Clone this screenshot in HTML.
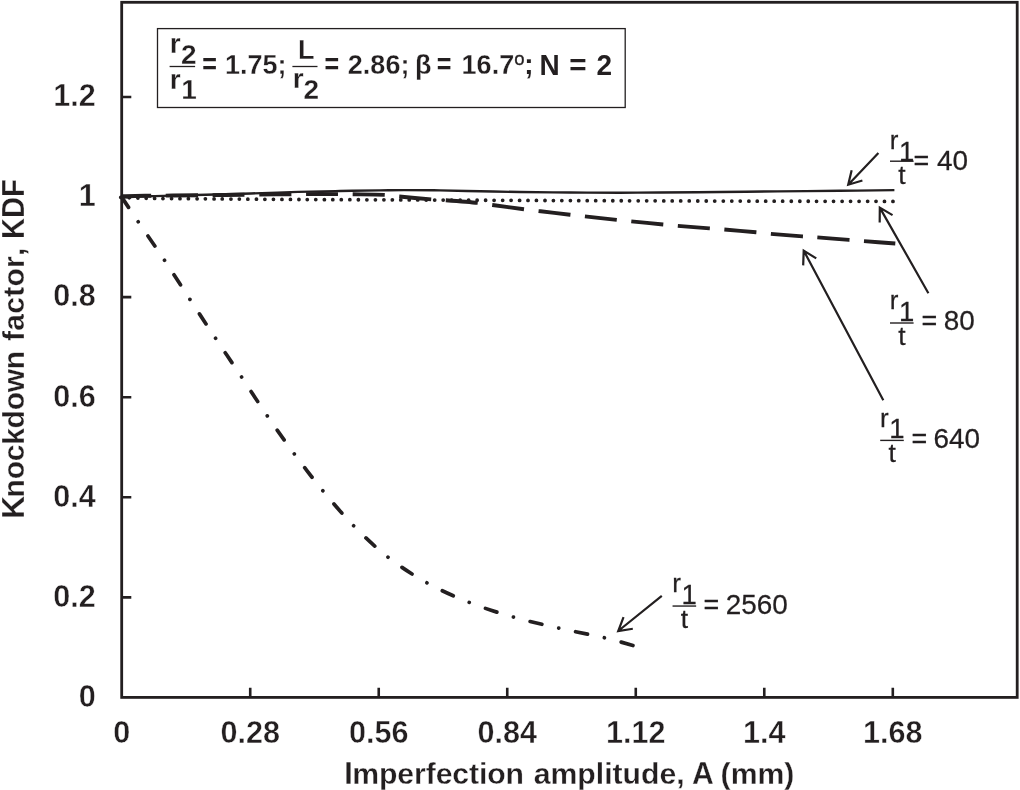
<!DOCTYPE html>
<html lang="en"><head><meta charset="utf-8"><title>Knockdown factor vs imperfection amplitude</title>
<style>html,body{margin:0;padding:0;background:#fff}body{width:1020px;height:790px;overflow:hidden}svg{display:block}text{font-family:"Liberation Sans",sans-serif;fill:#231f20}.b{font-weight:700}.tk{font-weight:700;font-size:30.6px;stroke:#fff;stroke-width:0.4px}.ne{stroke:none!important}.tt{font-weight:700;font-size:30.2px;font-kerning:none;stroke:#fff;stroke-width:0.3px}.an{font-size:27px;stroke:#231f20;stroke-width:0.25px}.lg{font-weight:700;font-size:28px;stroke:#fff;stroke-width:0.25px}</style></head><body>
<svg width="1020" height="790" viewBox="0 0 1020 790">
<rect x="0" y="0" width="1020" height="790" fill="#fff"/>
<rect x="121.70" y="2.30" width="895.50" height="695.10" fill="none" stroke="#231f20" stroke-width="2.8"/>
<path d="M250.22,697.40V687.80M378.73,697.40V687.80M507.25,697.40V687.80M635.77,697.40V687.80M764.28,697.40V687.80M892.80,697.40V687.80M121.70,597.34H131.30M121.70,497.28H131.30M121.70,397.22H131.30M121.70,297.16H131.30M121.70,197.10H131.30M121.70,97.04H131.30" fill="none" stroke="#231f20" stroke-width="2.6"/>
<text class="tk" transform="translate(121.70,742.9) scale(1,1.015)" text-anchor="middle">0</text>
<text class="tk" transform="translate(250.22,742.9) scale(1,1.015)" text-anchor="middle">0.28</text>
<text class="tk" transform="translate(378.73,742.9) scale(1,1.015)" text-anchor="middle">0.56</text>
<text class="tk" transform="translate(507.25,742.9) scale(1,1.015)" text-anchor="middle">0.84</text>
<text class="tk" transform="translate(635.77,742.9) scale(1,1.015)" text-anchor="middle">1.12</text>
<text class="tk" transform="translate(764.28,742.9) scale(1,1.015)" text-anchor="middle">1.4</text>
<text class="tk" transform="translate(892.80,742.9) scale(1,1.015)" text-anchor="middle">1.68</text>
<text class="tk" transform="translate(95.8,706.70) scale(1,1.015)" text-anchor="end">0</text>
<text class="tk" transform="translate(95.8,606.64) scale(1,1.015)" text-anchor="end">0.2</text>
<text class="tk" transform="translate(95.8,506.58) scale(1,1.015)" text-anchor="end">0.4</text>
<text class="tk" transform="translate(95.8,406.52) scale(1,1.015)" text-anchor="end">0.6</text>
<text class="tk" transform="translate(95.8,306.46) scale(1,1.015)" text-anchor="end">0.8</text>
<text class="tk" transform="translate(95.8,206.40) scale(1,1.015)" text-anchor="end">1</text>
<text class="tk" transform="translate(95.8,106.34) scale(1,1.015)" text-anchor="end">1.2</text>
<text class="tt" transform="translate(344.00,783.7) scale(1,0.965)" style="letter-spacing:-0.1px"><tspan style="font-size:32.39px">I</tspan><tspan dx="-0.6">mperfection</tspan></text>
<text class="tt" transform="translate(533.73,783.7) scale(1,0.965)">amplitude,</text>
<text class="tt" transform="translate(691.95,783.7) scale(1,1.035)">A</text>
<text class="tt" transform="translate(720.60,783.7) scale(1,0.965)">(mm)</text>
<text class="tt" transform="translate(23.9,348.8) rotate(-90) translate(-170.10,0) scale(1,0.965)" style="font-size:30px;letter-spacing:-0.25px"><tspan style="font-size:32.18px">K</tspan><tspan dx="-1.5">nockdown</tspan></text>
<text class="tt" transform="translate(23.9,348.8) rotate(-90) translate(7.75,0) scale(1,0.965)" style="font-size:30px;letter-spacing:0.3px">factor,</text>
<text class="tt" transform="translate(23.9,348.8) rotate(-90) translate(109.70,0) scale(0.97,1.035)" style="font-size:30px">KDF</text>
<path d="M121.70,196.60 C126.42,196.53 140.28,196.40 150.00,196.20 C159.72,196.00 169.17,195.68 180.00,195.40 C190.83,195.12 203.17,194.82 215.00,194.50 C226.83,194.18 237.17,193.93 251.00,193.50 C264.83,193.07 283.17,192.32 298.00,191.90 C312.83,191.48 326.33,191.25 340.00,191.00 C353.67,190.75 369.33,190.55 380.00,190.40 C390.67,190.25 394.00,190.10 404.00,190.10 C414.00,190.10 427.33,190.20 440.00,190.40 C452.67,190.60 466.67,191.03 480.00,191.30 C493.33,191.57 505.00,191.80 520.00,192.00 C535.00,192.20 553.33,192.38 570.00,192.50 C586.67,192.62 605.00,192.70 620.00,192.70 C635.00,192.70 643.33,192.62 660.00,192.50 C676.67,192.38 700.40,192.18 720.00,192.00 C739.60,191.82 757.60,191.60 777.60,191.40 C797.60,191.20 820.53,191.02 840.00,190.80 C859.47,190.58 885.33,190.22 894.40,190.10" fill="none" stroke="#231f20" stroke-width="2.4"/>
<path d="M120.77,197.40 C123.97,197.52 133.46,197.92 140.00,198.10 C146.54,198.28 147.67,198.37 160.00,198.50 C172.33,198.63 190.67,198.73 214.00,198.90 C237.33,199.07 269.00,199.33 300.00,199.50 C331.00,199.67 366.67,199.77 400.00,199.90 C433.33,200.03 466.67,200.17 500.00,200.30 C533.33,200.43 553.33,200.55 600.00,200.70 C646.67,200.85 731.08,201.08 780.00,201.20 C828.92,201.32 874.58,201.37 893.50,201.40" fill="none" stroke="#231f20" stroke-width="3.8" stroke-linecap="round" stroke-dasharray="0.01 8.475"/>
<path d="M121.70,196.30 C125.58,196.22 131.95,195.97 145.00,195.80 C158.05,195.63 186.67,195.43 200.00,195.30 C213.33,195.17 212.50,195.15 225.00,195.00 C237.50,194.85 259.17,194.57 275.00,194.40 C290.83,194.23 307.03,194.02 320.00,194.00 C332.97,193.98 342.07,194.15 352.80,194.30 C363.53,194.45 376.70,194.53 384.40,194.90 C392.10,195.27 391.15,195.75 399.00,196.50 C406.85,197.25 424.37,198.82 431.50,199.40 C438.63,199.98 434.08,199.42 441.80,200.00 C449.52,200.58 469.35,202.07 477.80,202.90 C486.25,203.73 484.82,203.93 492.50,205.00 C500.18,206.07 516.22,208.30 523.90,209.30 C531.58,210.30 530.92,210.10 538.60,211.00 C546.28,211.90 562.32,213.80 570.00,214.70 C577.68,215.60 576.92,215.53 584.70,216.40 C592.48,217.27 609.02,219.08 616.70,219.90 C624.38,220.72 623.07,220.53 630.80,221.30 C638.53,222.07 655.30,223.75 663.10,224.50 C670.90,225.25 669.87,225.15 677.60,225.80 C685.33,226.45 701.77,227.78 709.50,228.40 C717.23,229.02 716.25,228.85 724.00,229.50 C731.75,230.15 748.23,231.58 756.00,232.30 C763.77,233.02 762.87,233.12 770.60,233.80 C778.33,234.48 794.75,235.82 802.40,236.40 C810.05,236.98 808.73,236.72 816.50,237.30 C824.27,237.88 841.17,239.27 849.00,239.90 C856.83,240.53 855.78,240.50 863.50,241.10 C871.22,241.70 890.00,243.10 895.30,243.50" fill="none" stroke="#231f20" stroke-width="3.9" stroke-dasharray="32 14.7" stroke-dashoffset="2.5"/>
<path d="M121.70,197.10 C124.42,201.17 130.90,211.02 138.00,221.50 C145.10,231.98 155.67,247.05 164.30,260.00 C172.93,272.95 181.27,286.17 189.80,299.20 C198.33,312.23 206.92,325.30 215.50,338.20 C224.08,351.10 232.67,363.65 241.30,376.60 C249.93,389.55 258.47,403.02 267.30,415.90 C276.13,428.78 285.03,441.42 294.30,453.90 C303.57,466.38 313.00,478.82 322.90,490.80 C332.80,502.78 342.82,514.72 353.70,525.80 C364.58,536.88 375.97,547.78 388.20,557.30 C400.43,566.82 413.50,575.35 427.10,582.90 C440.70,590.45 455.35,596.88 469.80,602.60 C484.25,608.32 498.92,612.93 513.80,617.20 C528.68,621.47 543.90,624.75 559.10,628.20 C574.30,631.65 592.22,634.88 605.00,637.90 C617.78,640.92 630.67,644.90 635.80,646.30" fill="none" stroke="#231f20" stroke-width="3.7" stroke-linecap="round" stroke-dasharray="12 17.3 0.01 17.31" stroke-dashoffset="-0.4"/>
<rect x="157.5" y="28.6" width="467.7" height="78.9" fill="none" stroke="#231f20" stroke-width="1.3"/>
<path d="M169.60,66.50H195.10" stroke="#231f20" stroke-width="1.3" fill="none"/>
<text class="lg" transform="translate(169.85,52.80) scale(1,1.001)" style="font-size:28px">r</text>
<text class="lg" transform="translate(181.10,64.30) scale(1,1.001)" style="font-size:28px">2</text>
<text class="lg" transform="translate(169.85,88.60) scale(1,1.001)" style="font-size:28px">r</text>
<text class="lg" transform="translate(181.30,99.40) scale(1,1.001)" style="font-size:28px">1</text>
<text class="lg" transform="translate(202.35,74.30) scale(0.93,1.06)" style="font-size:27px;stroke:none">=</text>
<text class="lg" transform="translate(225.00,74.30) scale(1,1.045)" style="font-size:27px">1.75;</text>
<path d="M292.40,66.50H317.50" stroke="#231f20" stroke-width="1.3" fill="none"/>
<text class="lg" transform="translate(298.00,58.90) scale(1,1.03)" style="font-size:27px">L</text>
<text class="lg" transform="translate(292.75,88.30) scale(1,1.001)" style="font-size:28px">r</text>
<text class="lg" transform="translate(303.40,99.20) scale(1,1.001)" style="font-size:28px">2</text>
<text class="lg" transform="translate(324.45,74.30) scale(0.93,1.06)" style="font-size:27px;stroke:none">=</text>
<text class="lg" transform="translate(347.85,74.30) scale(1,1.045)" style="font-size:27px">2.86;</text>
<text class="lg" transform="translate(414.90,74.30) scale(1,1.045)" style="font-size:27px">β</text>
<text class="lg" transform="translate(436.85,74.30) scale(0.93,1.06)" style="font-size:27px;stroke:none">=</text>
<text class="lg" transform="translate(461.60,74.30) scale(1,1.045)" style="font-size:27px">16.7</text>
<text x="514.2" y="64.8" style="font-size:18.5px;stroke:#231f20;stroke-width:0.35px">o</text>
<text class="lg" transform="translate(523.90,74.30) scale(1,1)" style="font-size:29.5px">;</text>
<text class="lg ne" transform="translate(539.60,74.60) scale(1,1.045)" style="font-size:28px">N</text>
<text class="lg" transform="translate(569.15,74.60) scale(1.06,1.06)" style="font-size:28px;stroke:none">=</text>
<text class="lg ne" transform="translate(596.40,74.60) scale(1,1.045)" style="font-size:28px">2</text>
<path d="M878.40,152.90L848.20,184.70M851.66,170.31L848.20,184.70L862.39,180.50" fill="none" stroke="#231f20" stroke-width="2.2" stroke-linejoin="miter"/>
<text class="an" transform="translate(889.80,149.30) scale(1,1.001)" style="font-size:26px">r</text>
<text class="an" transform="translate(899.00,161.20) scale(1,1.001)" style="font-size:27.5px">1</text>
<text class="an" transform="translate(898.20,184.30) scale(1,1.001)" style="font-size:26.5px">t</text>
<text class="an" transform="translate(913.60,170.20) scale(0.98,1.001)" style="font-size:27.5px">=</text>
<text class="an" transform="translate(937.07,170.20) scale(1.015,1.001)" style="font-size:27.5px">40</text>
<path d="M890.00,161.20H913.60" stroke="#231f20" stroke-width="1.4" fill="none"/>
<path d="M928.40,293.20L879.80,207.60M892.56,215.09L879.80,207.60L879.69,222.40" fill="none" stroke="#231f20" stroke-width="2.2" stroke-linejoin="miter"/>
<text class="an" transform="translate(889.80,309.40) scale(1,1.001)" style="font-size:26px">r</text>
<text class="an" transform="translate(899.00,320.50) scale(1,1.001)" style="font-size:27.5px">1</text>
<text class="an" transform="translate(898.20,344.80) scale(1,1.001)" style="font-size:26.5px">t</text>
<text class="an" transform="translate(921.40,329.70) scale(0.98,1.001)" style="font-size:27.5px">=</text>
<text class="an" transform="translate(943.70,329.70) scale(1.015,1.001)" style="font-size:27.5px">80</text>
<path d="M890.00,323.00H913.60" stroke="#231f20" stroke-width="1.4" fill="none"/>
<path d="M883.30,400.30L803.70,250.60M816.25,258.44L803.70,250.60L803.18,265.39" fill="none" stroke="#231f20" stroke-width="2.2" stroke-linejoin="miter"/>
<text class="an" transform="translate(880.00,426.80) scale(1,1.001)" style="font-size:26px">r</text>
<text class="an" transform="translate(889.20,437.90) scale(1,1.001)" style="font-size:27.5px">1</text>
<text class="an" transform="translate(888.40,462.20) scale(1,1.001)" style="font-size:26.5px">t</text>
<text class="an" transform="translate(911.40,447.90) scale(0.98,1.001)" style="font-size:27.5px">=</text>
<text class="an" transform="translate(933.40,447.90) scale(1.015,1.001)" style="font-size:27.5px">640</text>
<path d="M880.20,440.40H903.80" stroke="#231f20" stroke-width="1.4" fill="none"/>
<path d="M661.80,595.90L618.20,631.00M623.54,617.20L618.20,631.00L632.82,628.73" fill="none" stroke="#231f20" stroke-width="2.2" stroke-linejoin="miter"/>
<text class="an" transform="translate(672.35,592.20) scale(1,1.001)" style="font-size:26px">r</text>
<text class="an" transform="translate(681.55,603.70) scale(1,1.001)" style="font-size:27.5px">1</text>
<text class="an" transform="translate(680.75,627.60) scale(1,1.001)" style="font-size:26.5px">t</text>
<text class="an" transform="translate(703.60,613.65) scale(0.98,1.001)" style="font-size:27.5px">=</text>
<text class="an" transform="translate(725.70,613.65) scale(1.015,1.001)" style="font-size:27.5px">2560</text>
<path d="M672.55,606.05H696.15" stroke="#231f20" stroke-width="1.4" fill="none"/>
</svg></body></html>
